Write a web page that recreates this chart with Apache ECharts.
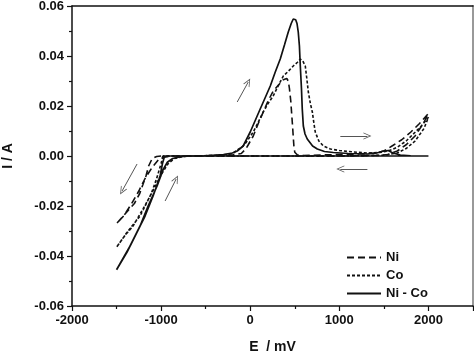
<!DOCTYPE html>
<html>
<head>
<meta charset="utf-8">
<script src="https://cdn.jsdelivr.net/npm/echarts@6/dist/echarts.min.js"></script>
<style>
  html, body { margin: 0; padding: 0; background: #fff; }
  #chart { width: 474px; height: 353px; }
</style>
</head>
<body>
<div id="chart"></div>
<script>
// potential (mV) and current (A), in scan order
var niE = [-1000, -1050, -1100, -1140, -1170, -1200, -1240, -1300, -1400, -1500,
  -1420, -1330, -1250, -1180, -1100, -1030, -950, -850, -500, -200, -100, -50, -22, 34, 90, 146, 200, 258, 320, 371, 410, 427,
  440, 455, 475, 490, 500, 515, 530, 600, 800, 1000, 1200, 1400, 1500, 1600, 1700, 1800, 1900, 2000,
  1950, 1850, 1750, 1650, 1550, 1400, 1000, 0, -500, -1000];
var niI = [0, -0.0002, -0.001, -0.004, -0.008, -0.011, -0.015, -0.019, -0.023, -0.027,
  -0.024, -0.019, -0.014, -0.009, -0.0045, -0.0015, -0.0003, 0, 0.0001, 0.0004, 0.001, 0.0028, 0.0045, 0.008, 0.013, 0.0176, 0.022, 0.026, 0.0285, 0.0305, 0.031, 0.030,
  0.027, 0.022, 0.012, 0.004, 0.0015, 0.0007, 0.0004, 0.0002, 0.0004, 0.0006, 0.0008, 0.0012, 0.002, 0.0042, 0.0065, 0.0095, 0.013, 0.017,
  0.0135, 0.008, 0.0045, 0.002, 0.0006, 0.0002, 0, 0, 0, 0];

var coE = [-980, -1000, -1050, -1110, -1236, -1382, -1500,
  -1400, -1315, -1200, -1100, -1000, -920, -850, -750, -650, -400, -250, -190, -140, -79, -34, 34, 90, 146, 200, 258, 320, 371, 430, 483, 530, 562,
  590, 618, 635, 652, 675, 697, 715, 730, 770, 820, 900, 1000, 1100, 1315, 1450, 1550, 1650, 1750, 1850, 1920, 2000,
  1950, 1850, 1750, 1650, 1500, 1000, 0, -500, -900, -980];
var coI = [0, -0.003, -0.009, -0.015, -0.024, -0.0305, -0.0365,
  -0.0315, -0.028, -0.021, -0.0145, -0.0075, -0.003, -0.001, -0.0002, 0, 0.0002, 0.0006, 0.0012, 0.0025, 0.004, 0.006, 0.0096, 0.0135, 0.0176, 0.021, 0.024, 0.0285, 0.032, 0.034, 0.036, 0.0375, 0.0388,
  0.038, 0.036, 0.031, 0.0256, 0.021, 0.0176, 0.013, 0.0096, 0.006, 0.004, 0.0028, 0.0022, 0.0018, 0.0012, 0.0014, 0.002, 0.0035, 0.006, 0.0095, 0.012, 0.0155,
  0.011, 0.006, 0.003, 0.0012, 0.0003, 0, 0, 0, 0, 0];

var nicoE = [-1500, -1348, -1236, -1146, -1045, -978, -930, -870, -780, -680, -500, -300, -200, -146, -79, 0, 56, 112, 170, 225, 280, 337, 385, 427, 460, 483, 494,
  510, 525, 539, 552, 562, 575, 584, 596, 615, 640, 700, 753, 833, 933, 1100, 1315, 1420, 1494, 1550, 1600, 1685, 1800, 2000,
  1500, 1000, 500, 0, -500, -900, -964, -985, -1011, -1050, -1090, -1180, -1270, -1382, -1500];
var nicoI = [-0.0455, -0.036, -0.028, -0.020, -0.012, -0.0055, -0.0025, -0.001, -0.0003, 0, 0.0001, 0.0006, 0.0012, 0.002, 0.004, 0.0096, 0.0142, 0.0188, 0.0235, 0.028, 0.0335, 0.0388, 0.0445, 0.0496, 0.053, 0.0548, 0.0552,
  0.0545, 0.053, 0.0496, 0.044, 0.036, 0.027, 0.0188, 0.012, 0.0088, 0.0068, 0.004, 0.0028, 0.0018, 0.0014, 0.001, 0.0008, 0.0012, 0.002, 0.0022, 0.0012, 0.0004, 0.0001, 0,
  0, 0, 0, 0, 0, 0, -0.0004, -0.003, -0.008, -0.012, -0.016, -0.024, -0.0304, -0.0384, -0.0455];

// x-axis tick labels
var xTicks = [-2000, -1000, 0, 1000, 2000];

// scan-direction arrows: [E start, I start, E end, I end]
var arrows = [
  [-146, 0.0216, -22, 0.0296],
  [1011, 0.008, 1315, 0.008],
  [1315, -0.0052, 1011, -0.0052],
  [-1270, -0.0032, -1438, -0.014],
  [-955, -0.018, -831, -0.0092]
];

function zip(xs, ys) {
  return xs.map(function (x, i) { return [x, ys[i]]; });
}

var font = 'Liberation Sans, Arial, sans-serif';
var chevron = 'path://M0,10 L5,0 L10,10 L8.8,10 L5,2.4 L1.2,10 Z';

var chart = echarts.init(document.getElementById('chart'));
chart.setOption({
  animation: false,
  backgroundColor: '#fff',
  grid: { left: 72, top: 6, right: 1, bottom: 47, outerBoundsMode: 'none', containLabel: false },
  legend: {
    orient: 'vertical',
    left: 341,
    top: 246,
    itemWidth: 34,
    itemHeight: 14,
    itemGap: 5,
    itemStyle: { opacity: 0 },
    textStyle: { fontFamily: font, fontWeight: 'bold', fontSize: 13, color: '#111' },
    data: ['Ni', 'Co', 'Ni - Co']
  },
  xAxis: [{
    type: 'value',
    min: -2000,
    max: 2500,
    interval: 1000,
    name: 'E  / mV',
    nameLocation: 'middle',
    nameGap: 34,
    nameTextStyle: { fontFamily: font, fontWeight: 'bold', fontSize: 14, color: '#111' },
    axisLine: { onZero: false, lineStyle: { color: '#111', width: 1.5 } },
    axisTick: { length: 5, lineStyle: { color: '#111', width: 1.2 } },
    minorTick: { show: true, splitNumber: 2, length: 3, lineStyle: { color: '#111', width: 1.2 } },
    splitLine: { show: false },
    axisLabel: {
      margin: 8,
      fontFamily: font, fontWeight: 'bold', fontSize: 13, color: '#111',
      formatter: function (v) { return xTicks.indexOf(v) >= 0 ? String(v) : ''; }
    }
  }, {
    type: 'value',
    position: 'top',
    min: -2000,
    max: 2500,
    axisLine: { show: true, onZero: false, lineStyle: { color: '#111', width: 1.5 } },
    axisTick: { show: false },
    axisLabel: { show: false },
    splitLine: { show: false }
  }],
  yAxis: [{
    type: 'value',
    min: -0.06,
    max: 0.06,
    interval: 0.02,
    name: 'I / A',
    nameLocation: 'middle',
    nameGap: 57,
    nameTextStyle: { fontFamily: font, fontWeight: 'bold', fontSize: 14, color: '#111' },
    axisLine: { show: true, onZero: false, lineStyle: { color: '#111', width: 1.5 } },
    axisTick: { show: true, length: 5, lineStyle: { color: '#111', width: 1.2 } },
    minorTick: { show: true, splitNumber: 2, length: 3, lineStyle: { color: '#111', width: 1.2 } },
    splitLine: { show: false },
    axisLabel: {
      margin: 8,
      fontFamily: font, fontWeight: 'bold', fontSize: 13, color: '#111',
      formatter: function (v) { return v.toFixed(2); }
    }
  }, {
    type: 'value',
    position: 'right',
    min: -0.06,
    max: 0.06,
    axisLine: { show: true, onZero: false, lineStyle: { color: '#999', width: 2 } },
    axisTick: { show: false },
    axisLabel: { show: false },
    splitLine: { show: false }
  }],
  series: [{
    name: 'Ni',
    type: 'line',
    showSymbol: false,
    symbol: 'none',
    data: zip(niE, niI),
    lineStyle: { color: '#111', width: 1.6, type: [7, 4] },
    itemStyle: { color: '#111' }
  }, {
    name: 'Co',
    type: 'line',
    showSymbol: false,
    symbol: 'none',
    data: zip(coE, coI),
    lineStyle: { color: '#111', width: 1.6, type: [3, 2] },
    itemStyle: { color: '#111' }
  }, {
    name: 'Ni - Co',
    type: 'line',
    showSymbol: false,
    symbol: 'none',
    data: zip(nicoE, nicoI),
    lineStyle: { color: '#111', width: 1.7, type: 'solid' },
    itemStyle: { color: '#111' },
    markLine: {
      silent: true,
      animation: false,
      symbol: ['none', chevron],
      symbolSize: [7, 8],
      label: { show: false },
      lineStyle: { color: '#555', width: 1, type: 'solid' },
      itemStyle: { color: '#555' },
      emphasis: { disabled: true },
      data: arrows.map(function (a) {
        return [{ coord: [a[0], a[1]] }, { coord: [a[2], a[3]] }];
      })
    }
  }]
});
</script>
</body>
</html>
